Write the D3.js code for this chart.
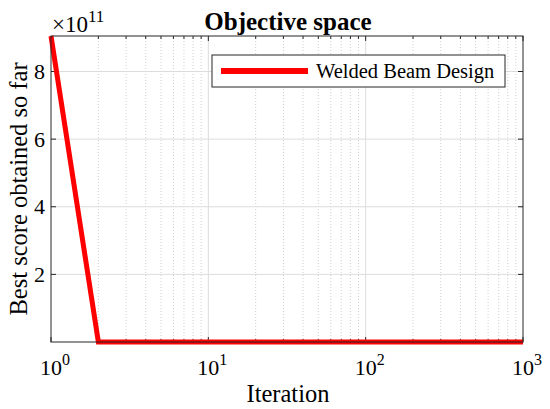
<!DOCTYPE html>
<html><head><meta charset="utf-8">
<script src="https://cdn.jsdelivr.net/npm/d3@7"></script>
<style>body{margin:0;background:#fff}svg{display:block}text{font-family:"Liberation Serif","Times New Roman",serif;fill:#000}</style>
</head><body>
<script>
const iterations = [1, 2, 1000];
const scores = [9.05e11, 1.7249, 1.7249];
const seriesName = "Welded Beam Design";
const xTicks = [1, 10, 100, 1000];
const xTickExp = ["0", "1", "2", "3"];
const yTicks = [2e11, 4e11, 6e11, 8e11];
const yTickLabels = ["2", "4", "6", "8"];
const yExponent = "11";

const W = 550, H = 409;
const m = {l: 51, r: 27, t: 36, b: 67};
const svg = d3.select("body").append("svg").attr("width", W).attr("height", H);
const x = d3.scaleLog().domain([1, 1000]).range([m.l, W - m.r]);
const y = d3.scaleLinear().domain([d3.min(scores), d3.max(scores)]).range([H - m.b, m.t]);
const x0 = m.l, x1 = W - m.r, y0 = H - m.b, y1 = m.t;

// minor grid (dotted)
const minor = [];
for (let k = 0; k < 3; k++) for (let j = 2; j <= 9; j++) minor.push(j * Math.pow(10, k));
svg.append("g").selectAll("line").data(minor).join("line")
  .attr("x1", d => x(d)).attr("x2", d => x(d)).attr("y1", y0).attr("y2", y1)
  .attr("stroke", "#c4c4c4").attr("stroke-width", 0.8).attr("stroke-dasharray", "1,2");
// major grid
svg.append("g").selectAll("line").data(xTicks.slice(1, -1)).join("line")
  .attr("x1", d => x(d)).attr("x2", d => x(d)).attr("y1", y0).attr("y2", y1)
  .attr("stroke", "#dcdcdc").attr("stroke-width", 1);
svg.append("g").selectAll("line").data(yTicks).join("line")
  .attr("x1", x0).attr("x2", x1).attr("y1", d => y(d)).attr("y2", d => y(d))
  .attr("stroke", "#dcdcdc").attr("stroke-width", 1);

// ticks (inside)
const tk = svg.append("g").attr("stroke", "#262626").attr("stroke-width", 1);
xTicks.forEach(d => {
  tk.append("line").attr("x1", x(d)).attr("x2", x(d)).attr("y1", y0).attr("y2", y0 - 5);
  tk.append("line").attr("x1", x(d)).attr("x2", x(d)).attr("y1", y1).attr("y2", y1 + 5);
});
minor.forEach(d => {
  tk.append("line").attr("x1", x(d)).attr("x2", x(d)).attr("y1", y0).attr("y2", y0 - 3);
  tk.append("line").attr("x1", x(d)).attr("x2", x(d)).attr("y1", y1).attr("y2", y1 + 3);
});
yTicks.forEach(d => {
  tk.append("line").attr("x1", x0).attr("x2", x0 + 5).attr("y1", y(d)).attr("y2", y(d));
  tk.append("line").attr("x1", x1).attr("x2", x1 - 5).attr("y1", y(d)).attr("y2", y(d));
});

// line
const line = d3.line().x((d, i) => x(iterations[i])).y(d => y(d));
svg.append("path").datum(scores).attr("d", line).attr("fill", "none")
  .attr("stroke", "#ff0000").attr("stroke-width", 5).attr("stroke-linejoin", "miter");

// box
svg.append("rect").attr("x", x0).attr("y", y1).attr("width", x1 - x0).attr("height", y0 - y1)
  .attr("fill", "none").attr("stroke", "#262626").attr("stroke-width", 1);

// x tick labels
xTicks.forEach((d, i) => {
  const t = svg.append("text").attr("x", x(d) + 4).attr("y", 375).attr("text-anchor", "middle").style("font-size", "22px");
  t.append("tspan").text("10");
  t.append("tspan").attr("dy", -10).style("font-size", "16px").text(xTickExp[i]);
});
// y tick labels
yTicks.forEach((d, i) => {
  svg.append("text").attr("x", 45).attr("y", y(d) + 7.5).attr("text-anchor", "end").style("font-size", "22px").text(yTickLabels[i]);
});
// exponent
const ex = svg.append("text").attr("x", 52).attr("y", 32).style("font-size", "23px");
ex.append("tspan").text("\u00d710");
ex.append("tspan").attr("dy", -10).style("font-size", "17px").text(yExponent);

// title & labels
svg.append("text").attr("x", (x0 + x1) / 2 + 1).attr("y", 30).attr("text-anchor", "middle")
  .style("font-size", "25px").style("font-weight", "bold").text("Objective space");
svg.append("text").attr("x", (x0 + x1) / 2 + 1).attr("y", 402).attr("text-anchor", "middle")
  .style("font-size", "24.5px").text("Iteration");
svg.append("text").attr("transform", `translate(27,${(y0 + y1) / 2}) rotate(-90)`).attr("text-anchor", "middle")
  .style("font-size", "24.5px").text("Best score obtained so far");

// legend
const lg = svg.append("g");
lg.append("rect").attr("x", 212).attr("y", 55).attr("width", 293).attr("height", 32)
  .attr("fill", "#fff").attr("stroke", "#262626").attr("stroke-width", 1);
lg.append("line").attr("x1", 221).attr("x2", 308).attr("y1", 71).attr("y2", 71)
  .attr("stroke", "#ff0000").attr("stroke-width", 6);
lg.append("text").attr("x", 316).attr("y", 78).style("font-size", "20.5px").text(seriesName);
</script>
</body></html>
